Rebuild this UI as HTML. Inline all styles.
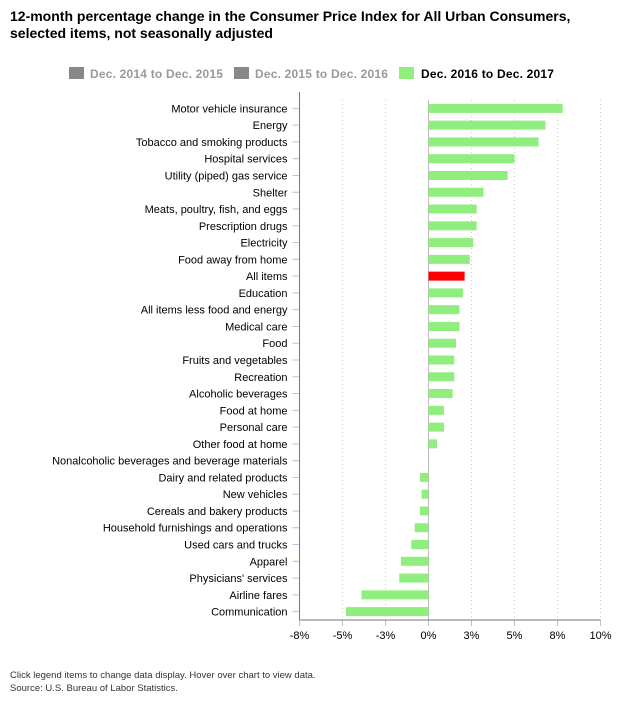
<!DOCTYPE html>
<html><head><meta charset="utf-8"><style>
body{margin:0;background:#fff;font-family:"Liberation Sans",sans-serif;}
</style></head><body>
<svg width="640" height="700" xmlns="http://www.w3.org/2000/svg" style="font-family:'Liberation Sans',sans-serif">
<text x="10" y="21" font-size="14" font-weight="bold" fill="#000">12-month percentage change in the Consumer Price Index for All Urban Consumers,</text>
<text x="10" y="38" font-size="14" font-weight="bold" fill="#000">selected items, not seasonally adjusted</text>
<g font-size="12" font-weight="bold" letter-spacing="0.2">
<g><rect x="69" y="67" width="15" height="12" fill="#888"/><text x="90" y="78" fill="#999">Dec. 2014 to Dec. 2015</text></g>
<g><rect x="234" y="67" width="15" height="12" fill="#888"/><text x="255" y="78" fill="#999">Dec. 2015 to Dec. 2016</text></g>
<g><rect x="399" y="67" width="15" height="12" fill="#90ee7e"/><text x="421" y="78" fill="#000">Dec. 2016 to Dec. 2017</text></g>
</g>
<g id="plot"></g>
<text x="10" y="678" font-size="9.5" fill="#333">Click legend items to change data display. Hover over chart to view data.</text>
<text x="10" y="691" font-size="9.5" fill="#333">Source: U.S. Bureau of Labor Statistics.</text>
</svg>
<script>
const categories=["Motor vehicle insurance","Energy","Tobacco and smoking products","Hospital services","Utility (piped) gas service","Shelter","Meats, poultry, fish, and eggs","Prescription drugs","Electricity","Food away from home","All items","Education","All items less food and energy","Medical care","Food","Fruits and vegetables","Recreation","Alcoholic beverages","Food at home","Personal care","Other food at home","Nonalcoholic beverages and beverage materials","Dairy and related products","New vehicles","Cereals and bakery products","Household furnishings and operations","Used cars and trucks","Apparel","Physicians' services","Airline fares","Communication"];
const values=[7.8,6.8,6.4,5.0,4.6,3.2,2.8,2.8,2.6,2.4,2.1,2.0,1.8,1.8,1.6,1.5,1.5,1.4,0.9,0.9,0.5,0.0,-0.5,-0.4,-0.5,-0.8,-1.0,-1.6,-1.7,-3.9,-4.8];
const tickValues=[-7.5,-5,-2.5,0,2.5,5,7.5,10];
const tickLabels=["-8%","-5%","-3%","0%","3%","5%","8%","10%"];
const NS="http://www.w3.org/2000/svg";
const plot=document.getElementById('plot');
const x0=299.5,x1=600.5,dmin=-7.5,dmax=10,plotTop=100,plotBottom=620;
function xs(v){return x0+(v-dmin)/(dmax-dmin)*(x1-x0);}
const step=(plotBottom-plotTop)/categories.length;
function ys(i){return plotTop+step*(i+0.5);}
function mk(t,a){const e=document.createElementNS(NS,t);for(const k in a)e.setAttribute(k,a[k]);plot.appendChild(e);return e;}
tickValues.forEach((v,i)=>{
  const g=mk('line',{x1:xs(v),x2:xs(v),y1:plotTop,y2:plotBottom,stroke:v===0?'#bbb':'#ccc','stroke-dasharray':v===0?'none':'1,3','stroke-width':1});
  
  
  const tk=mk('line',{x1:xs(v),x2:xs(v),y1:plotBottom,y2:plotBottom+6,stroke:'#b0c4d8'});
  
  
  const t=mk('text',{x:xs(v),y:plotBottom+19,'font-size':11,'text-anchor':'middle',fill:'#000'});
  t.textContent=tickLabels[i];
  
  
});
categories.forEach((c,i)=>{
  const y=ys(i),v=values[i];
  const r=mk('rect',{x:Math.min(xs(0),xs(v)),y:y-4.5,width:Math.abs(xs(v)-xs(0)),height:9,fill:c==="All items"?'#ff0000':'#90ee7e'});
  
  
  const tk=mk('line',{x1:x0-7,x2:x0,y1:y,y2:y,stroke:'#b0c4d8'});
  
  
  const t=mk('text',{x:x0-12,y:y+4,'font-size':11,'text-anchor':'end',fill:'#000'});
  t.textContent=c;
  
  
});
const ya=mk('line',{x1:x0,x2:x0,y1:plotTop-8,y2:plotBottom,stroke:'#777'});


const xa=mk('line',{x1:x0,x2:x1,y1:plotBottom,y2:plotBottom,stroke:'#777'});


</script>
</body></html>
